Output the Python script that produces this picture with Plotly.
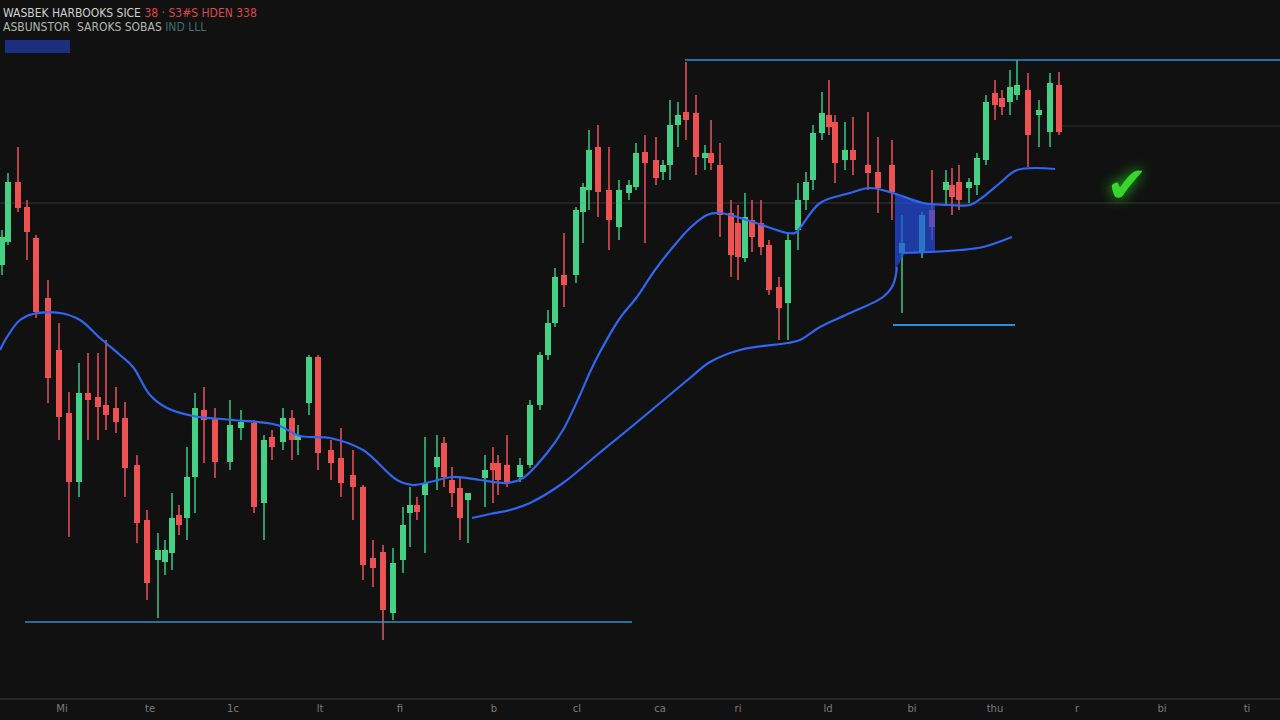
import plotly.graph_objects as go

# ---------------- data ----------------
x = [2, 8, 18, 27, 36, 48, 59, 69, 79, 88, 98, 106, 116, 125, 137, 147, 158, 165, 172, 179,
     187, 195, 204, 215, 230, 241, 254, 264, 272, 283, 292, 298, 309, 318, 331, 341, 353, 363, 373, 383,
     393, 403, 410, 417, 425, 437, 444, 452, 460, 468, 485, 493, 498, 507, 520, 530, 540, 548, 555, 564,
     576, 583, 589, 598, 609, 619, 629, 636, 645, 656, 663, 670, 678, 686, 696, 705, 711, 720, 731, 738,
     745, 752, 761, 769, 779, 788, 798, 806, 813, 822, 829, 835, 845, 853, 868, 878, 892, 902, 922, 932,
     946, 952, 959, 969, 977, 986, 995, 1002, 1010, 1017, 1028, 1039, 1050, 1059]
open_ = [455, 478, 538, 513, 482, 422, 370, 307, 238, 327, 323, 315, 312, 302, 255, 200, 160, 158, 167, 205,
         202, 243, 310, 302, 258, 292, 297, 217, 283, 278, 302, 280, 317, 363, 270, 262, 245, 233, 162, 168,
         107, 160, 207, 215, 225, 253, 277, 240, 232, 220, 242, 257, 257, 255, 243, 255, 315, 365, 397, 445,
         445, 508, 530, 573, 530, 493, 527, 533, 568, 560, 548, 555, 595, 608, 607, 562, 567, 555, 507, 497,
         462, 500, 497, 475, 433, 417, 490, 520, 540, 587, 605, 598, 560, 570, 555, 548, 555, 467, 467, 510,
         530, 535, 538, 532, 535, 560, 627, 622, 618, 625, 630, 605, 588, 635]
close = [483, 538, 512, 488, 408, 342, 303, 238, 327, 320, 313, 305, 298, 252, 197, 137, 170, 170, 202, 195,
         243, 312, 300, 258, 295, 298, 213, 280, 273, 302, 280, 285, 363, 267, 257, 237, 233, 155, 152, 110,
         157, 195, 215, 208, 237, 263, 243, 227, 202, 227, 250, 250, 240, 237, 255, 315, 365, 397, 443, 435,
         510, 533, 570, 528, 500, 530, 535, 567, 557, 542, 555, 595, 605, 600, 563, 567, 557, 505, 465, 463,
         503, 483, 473, 430, 412, 480, 520, 538, 587, 607, 593, 557, 570, 560, 547, 532, 528, 477, 505, 493,
         538, 523, 520, 538, 562, 618, 615, 613, 633, 635, 585, 610, 637, 588]
high = [490, 547, 573, 520, 485, 440, 397, 328, 357, 367, 367, 380, 333, 318, 265, 210, 187, 180, 227, 215,
        273, 327, 333, 312, 320, 310, 300, 285, 290, 312, 310, 295, 365, 365, 280, 292, 270, 235, 180, 175,
        172, 213, 233, 223, 283, 285, 283, 253, 243, 227, 265, 273, 265, 285, 262, 320, 368, 410, 452, 487,
        513, 537, 590, 595, 573, 540, 540, 577, 585, 583, 560, 620, 618, 658, 625, 575, 600, 577, 520, 515,
        527, 520, 520, 480, 443, 487, 537, 548, 595, 628, 640, 605, 598, 603, 608, 583, 580, 505, 508, 550,
        550, 552, 555, 542, 567, 625, 640, 630, 650, 660, 647, 620, 647, 648]
low = [445, 475, 508, 460, 402, 317, 280, 183, 223, 280, 280, 290, 287, 223, 177, 120, 102, 145, 150, 185,
       180, 207, 257, 242, 250, 280, 207, 180, 260, 270, 260, 265, 305, 250, 240, 223, 200, 140, 133, 80,
       100, 147, 173, 200, 167, 230, 233, 213, 180, 177, 213, 217, 225, 233, 238, 252, 310, 360, 393, 413,
       437, 477, 510, 503, 470, 480, 520, 530, 477, 535, 540, 540, 573, 580, 545, 550, 550, 483, 443, 440,
       458, 468, 465, 425, 380, 380, 470, 510, 530, 580, 585, 537, 550, 545, 530, 507, 500, 407, 462, 480,
       515, 505, 510, 517, 525, 555, 600, 605, 605, 620, 553, 573, 573, 585]

# moving averages
ma_fast_x = [0, 7, 20, 33, 60, 80, 100, 120, 133, 150, 167, 193, 233, 277, 300, 330, 363, 397, 413, 430,
             453, 480, 507, 523, 547, 563, 580, 590, 600, 620, 637, 655, 673, 690, 707, 720, 753, 787, 795,
             800, 820, 850, 870, 893, 923, 950, 970, 983, 1000, 1017, 1055]
ma_fast_y = [370, 383, 400, 406, 407, 400, 382, 365, 353, 325, 312, 304, 300, 295, 284, 282, 270, 240, 235, 238,
             243, 240, 237, 242, 267, 290, 325, 348, 368, 402, 423, 450, 473, 492, 505, 507, 498, 487, 487,
             492, 517, 527, 532, 527, 517, 515, 515, 523, 537, 550, 551]
ma_slow_x = [472, 490, 510, 530, 563, 597, 630, 660, 690, 710, 740, 787, 800, 820, 850, 883, 893, 897]
ma_slow_y = [202, 206, 210, 217, 237, 265, 292, 317, 342, 358, 370, 377, 380, 393, 407, 423, 435, 453]
ma_slow2_x = [902, 930, 960, 983, 1012]
ma_slow2_y = [467, 468, 470, 473, 483]

# highlighted zone between averages
zone_x = [895, 905, 915, 925, 935]
zone_top = [527, 523, 519, 517, 516]
zone_bot = [450, 467, 467, 467, 468]

# horizontal levels: (price, start, end)
resistance = (660, 685, 1280)
support = (98, 25, 632)
target = (395, 893, 1015)
grid_mid = (517, 0, 1280)
grid_hi = (594, 1060, 1280)

tick_pos = [62, 150, 233, 320, 400, 494, 577, 660, 738, 828, 912, 995, 1077, 1162, 1247]
tick_txt = ["Mi", "te", "1c", "lt", "fi", "b", "cl", "ca", "ri", "ld", "bi", "thu", "r", "bi", "ti"]

# ---------------- figure ----------------
RED, GREEN = "#ec5252", "#45d185"
RED_W, GREEN_W = "#b5414b", "#2e9a67"
up = [c >= o for o, c in zip(open_, close)]
body_col = [GREEN if u else RED for u in up]
wick_col = [GREEN_W if u else RED_W for u in up]

fig = go.Figure()

# levels / grid
for lvl, col, w in [(grid_mid, "rgba(120,130,130,0.35)", 1), (grid_hi, "rgba(120,130,130,0.3)", 1),
                    (resistance, "#2a8fd6", 1.6), (support, "#2a8fd6", 1.6), (target, "#2a8fd6", 2)]:
    fig.add_trace(go.Scatter(x=[lvl[1], lvl[2]], y=[lvl[0], lvl[0]], mode="lines",
                             line=dict(color=col, width=w), hoverinfo="skip"))

# zone fill
fig.add_trace(go.Scatter(x=zone_x, y=zone_bot, mode="lines", line=dict(width=0), hoverinfo="skip"))
fig.add_trace(go.Scatter(x=zone_x, y=zone_top, mode="lines", line=dict(width=0),
                         fill="tonexty", fillcolor="rgba(35,75,225,0.7)", hoverinfo="skip"))

# wicks
fig.add_trace(go.Bar(x=x, base=low, y=[h - l for h, l in zip(high, low)], width=1.3,
                     marker=dict(color=wick_col, line=dict(width=0)), hoverinfo="skip"))
# bodies
fig.add_trace(go.Bar(x=x, base=[min(o, c) for o, c in zip(open_, close)],
                     y=[max(abs(c - o), 3) for o, c in zip(open_, close)], width=6.5,
                     marker=dict(color=body_col, line=dict(width=0))))

# moving averages
for mx, my in [(ma_fast_x, ma_fast_y), (ma_slow_x, ma_slow_y), (ma_slow2_x, ma_slow2_y)]:
    fig.add_trace(go.Scatter(x=mx, y=my, mode="lines", line=dict(color="#2f66f2", width=2.2, shape="spline"),
                             hoverinfo="skip"))

HDR_FONT = "Liberation Sans Narrow, DejaVu Sans Condensed, Arial Narrow, sans-serif"
# header text
fig.add_annotation(x=1, y=707, xref="x", yref="y", xanchor="left", yanchor="middle", showarrow=False,
                   text="<span style='color:#cfcfcf'>WASBEK HARBOOKS SICE</span> "
                        "<span style='color:#d94a4a'>38 · S3#S HDEN 338</span>",
                   font=dict(family=HDR_FONT, size=12))
fig.add_annotation(x=1, y=693, xref="x", yref="y", xanchor="left", yanchor="middle", showarrow=False,
                   text="<span style='color:#b0b8b0'>ASBUNSTOR  SAROKS SOBAS</span> "
                        "<span style='color:#3f6f6a'>IND LLL</span>",
                   font=dict(family=HDR_FONT, size=12))
fig.add_shape(type="rect", x0=5, x1=70, y0=667, y1=680, xref="x", yref="y",
              fillcolor="#1d3592", line=dict(width=0), opacity=0.85)

# check mark
fig.add_annotation(x=1127, y=535, xref="x", yref="y", showarrow=False, text="✔",
                   font=dict(size=50, color="#38d62c", family="DejaVu Sans",
                             shadow="0 0 14px #2bd11f"))

fig.update_layout(
    width=1280, height=720, margin=dict(l=0, r=0, t=0, b=22),
    paper_bgcolor="#111111", plot_bgcolor="#111111",
    showlegend=False, barmode="overlay", bargap=0,
    xaxis=dict(range=[0, 1280], showgrid=False, zeroline=False, tickmode="array",
               tickvals=tick_pos, ticktext=tick_txt, ticks="", showline=True,
               linecolor="#262626", linewidth=2,
               tickfont=dict(color="#7a7a7a", size=10, family="DejaVu Sans")),
    yaxis=dict(range=[22, 720], showgrid=False, zeroline=False, showticklabels=False),
)

fig.write_html("out.html", config={"displayModeBar": False},
               post_script="document.body.style.margin='0';document.body.style.background='#111111';")
